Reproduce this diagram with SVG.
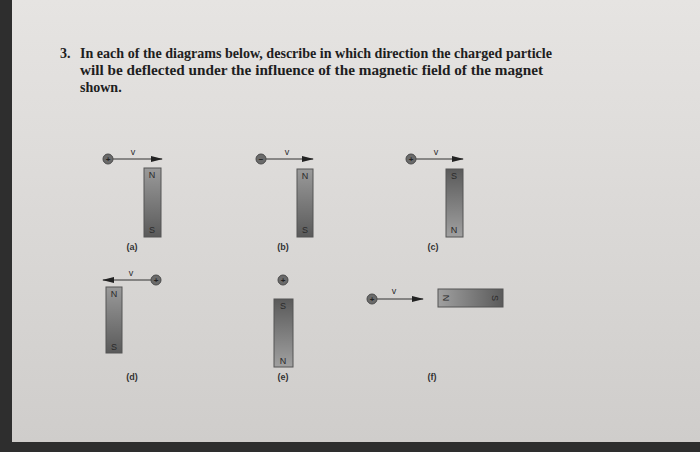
<svg xmlns="http://www.w3.org/2000/svg" width="700" height="452" viewBox="0 0 700 452">
<defs>
<style>
.t{font-family:"Liberation Serif",serif;font-size:14px;fill:#1e1e1e;font-weight:bold}
.l{font-family:"Liberation Sans",sans-serif;font-size:9px;fill:#2a2a2a;text-anchor:middle}
.s{font-family:"Liberation Sans",sans-serif;font-size:8px;fill:#222;text-anchor:middle;font-weight:bold}
.p{font-family:"Liberation Sans",sans-serif;font-size:9px;fill:#333;text-anchor:middle;font-weight:bold}
.c{fill:#6a6a6a;stroke:#4a4a4a;stroke-width:1}
.w{stroke:#333;stroke-width:1;fill:none}
</style>
<marker id="ar" markerWidth="12" markerHeight="6" refX="11" refY="3" orient="auto" markerUnits="userSpaceOnUse"><path d="M0,0L12,3L0,6z" fill="#222"/></marker>
<linearGradient id="sn" x1="0" y1="0" x2="0" y2="1"><stop offset="0" stop-color="#9a9a9a"/><stop offset="1" stop-color="#5a5a5a"/></linearGradient>
<linearGradient id="ns" x1="0" y1="0" x2="0" y2="1"><stop offset="0" stop-color="#5a5a5a"/><stop offset="1" stop-color="#a0a0a0"/></linearGradient>
<linearGradient id="h" x1="0" y1="0" x2="1" y2="0"><stop offset="0" stop-color="#a0a0a0"/><stop offset="1" stop-color="#5a5a5a"/></linearGradient>
<linearGradient id="bg" x1="0" y1="0" x2="0" y2="1"><stop offset="0" stop-color="#e6e4e2"/><stop offset="1" stop-color="#cfcdcb"/></linearGradient>
</defs>
<rect width="700" height="452" fill="#2e2e2e"/>
<rect x="12" y="0" width="688" height="442" fill="url(#bg)"/>
<text class="t" x="60" y="58">3.</text>
<text class="t" x="80" y="58" textLength="472" lengthAdjust="spacingAndGlyphs">In each of the diagrams below, describe in which direction the charged particle</text>
<text class="t" x="80" y="75" textLength="463" lengthAdjust="spacingAndGlyphs">will be deflected under the influence of the magnetic field of the magnet</text>
<text class="t" x="80" y="92">shown.</text>
<g id="connectors">
<line class="w" x1="113" y1="159" x2="162" y2="159" marker-end="url(#ar)"/>
<line class="w" x1="266" y1="159" x2="313" y2="159" marker-end="url(#ar)"/>
<line class="w" x1="416" y1="159" x2="463" y2="159" marker-end="url(#ar)"/>
<line class="w" x1="151" y1="280" x2="103" y2="280" marker-end="url(#ar)"/>
<line class="w" x1="377" y1="299" x2="423" y2="299" marker-end="url(#ar)"/>
</g>
<g id="a"><circle class="c" cx="108" cy="159" r="5"/><text class="s" x="108" y="162">+</text><text class="l" x="133" y="155">v</text><rect x="144" y="168" width="17" height="69" fill="url(#sn)" stroke="#555"/><text class="l" x="152" y="178">N</text><text class="l" x="152" y="233">S</text><text class="p" x="132" y="250">(a)</text></g>
<g id="b"><circle class="c" cx="261" cy="159" r="5"/><text class="s" x="261" y="162">−</text><text class="l" x="287" y="155">v</text><rect x="297" y="169" width="16" height="68" fill="url(#sn)" stroke="#555"/><text class="l" x="305" y="179">N</text><text class="l" x="305" y="233">S</text><text class="p" x="283" y="250">(b)</text></g>
<g id="c"><circle class="c" cx="411" cy="159" r="5"/><text class="s" x="411" y="162">+</text><text class="l" x="436" y="155">v</text><rect x="446" y="169" width="17" height="68" fill="url(#ns)" stroke="#555"/><text class="l" x="454" y="179">S</text><text class="l" x="454" y="233">N</text><text class="p" x="433" y="250">(c)</text></g>
<g id="d"><circle class="c" cx="156" cy="280" r="5"/><text class="s" x="156" y="283">+</text><text class="l" x="131" y="276">v</text><rect x="106" y="287" width="16" height="66" fill="url(#sn)" stroke="#555"/><text class="l" x="114" y="297">N</text><text class="l" x="114" y="350">S</text><text class="p" x="132" y="380">(d)</text></g>
<g id="e"><circle class="c" cx="283" cy="280" r="5"/><text class="s" x="283" y="283">+</text><rect x="274" y="299" width="19" height="68" fill="url(#ns)" stroke="#555"/><text class="l" x="283" y="309">S</text><text class="l" x="283" y="364">N</text><text class="p" x="283" y="380">(e)</text></g>
<g id="f"><circle class="c" cx="372" cy="299" r="5"/><text class="s" x="372" y="302">+</text><text class="l" x="394" y="294">v</text><rect x="438" y="289" width="65" height="18" fill="url(#h)" stroke="#555"/><text class="l" transform="translate(446,298) rotate(90)" y="3">N</text><text class="l" transform="translate(495,298) rotate(90)" y="3">S</text><text class="p" x="432" y="380">(f)</text></g>
</svg>
